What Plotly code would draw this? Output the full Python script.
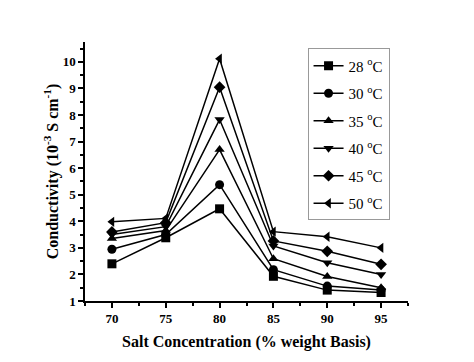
import plotly.graph_objects as go

salt = [70, 75, 80, 85, 90, 95]
labels = ["28 <sup>o</sup>C", "30 <sup>o</sup>C", "35 <sup>o</sup>C",
          "40 <sup>o</sup>C", "45 <sup>o</sup>C", "50 <sup>o</sup>C"]
c28 = [2.40, 3.38, 4.47, 1.93, 1.41, 1.32]
c30 = [2.95, 3.50, 5.38, 2.18, 1.56, 1.41]
c35 = [3.35, 3.65, 6.70, 2.59, 1.92, 1.50]
c40 = [3.50, 3.80, 7.83, 3.07, 2.44, 2.00]
c45 = [3.60, 3.95, 9.05, 3.26, 2.87, 2.38]
c50 = [3.98, 4.11, 10.12, 3.61, 3.42, 3.00]
series = [c28, c30, c35, c40, c45, c50]
symbols = ["square", "circle", "triangle-up", "triangle-down", "diamond", "triangle-left"]

FONT = "Liberation Serif, Times New Roman, serif"

fig = go.Figure()
for i, (lab, ys, sym) in enumerate(zip(labels, series, symbols)):
    fig.add_trace(go.Scatter(
        x=salt, y=ys, name=lab, mode="lines+markers",
        line=dict(color="black", width=1.5),
        marker=dict(symbol=sym, size=9, color="black"),
        legendgroup=str(i),
    ))

axis_common = dict(
    showline=True, linecolor="black", linewidth=1.5,
    ticks="outside", ticklen=5, tickwidth=1.5, tickcolor="black",
    showgrid=False, zeroline=False, mirror=False, automargin=False,
    tickfont=dict(family=FONT, size=13, color="black", weight="bold"),
)

fig.update_xaxes(
    range=[67.5, 97.5], tickvals=salt,
    minor=dict(ticks="outside", ticklen=3, tickcolor="black", dtick=2.5, tick0=67.5),
    title=dict(text="Salt Concentration (% weight Basis)",
               font=dict(family=FONT, size=16, color="black", weight="bold"),
               standoff=10),
    **axis_common,
)
fig.update_yaxes(
    range=[1, 10.75], dtick=1, tick0=1,
    minor=dict(ticks="outside", ticklen=3, tickcolor="black", dtick=0.5, tick0=1),
    title=dict(text="Conductivity (10<sup>-3</sup> S cm<sup>-1</sup>)",
               font=dict(family=FONT, size=16, color="black", weight="bold"),
               standoff=0),
    **axis_common,
)

fig.update_layout(
    width=466, height=354,
    margin=dict(l=77, r=66, t=34, b=61),
    plot_bgcolor="white", paper_bgcolor="white",
    showlegend=True,
    legend=dict(
        x=0.689, y=0.975, xanchor="left", yanchor="top",
        bordercolor="#999999", borderwidth=1,
        font=dict(family=FONT, size=15, color="black"),
        tracegroupgap=5, itemwidth=30,
    ),
)

fig.write_html("out.html")
